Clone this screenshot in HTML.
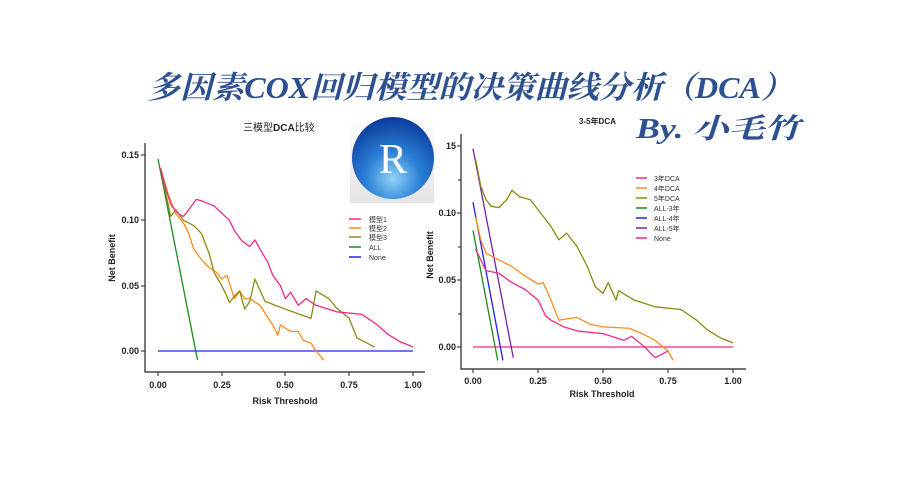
<!DOCTYPE html>
<html><head><meta charset="utf-8"><style>
body{margin:0;background:#fff;}
svg{display:block;font-family:"Liberation Sans","Noto Sans CJK SC",sans-serif;}
.l{fill:none;stroke-width:1.3;vector-effect:non-scaling-stroke;stroke-linejoin:round}
.t{font-size:9px;font-weight:bold;fill:#222}
.g{font-size:7px;fill:#333}
</style></head><body>
<svg width="918" height="494" viewBox="0 0 918 494">
<defs>
<radialGradient id="rb" cx="0.5" cy="0.75" r="0.75">
<stop offset="0" stop-color="#8fd3f7"/><stop offset="0.45" stop-color="#2a7fd6"/><stop offset="1" stop-color="#0b3a9c"/>
</radialGradient>
<linearGradient id="sh" x1="0" y1="0" x2="0" y2="1"><stop offset="0" stop-color="#fff"/><stop offset="1" stop-color="#e4e4e4"/></linearGradient>
</defs>
<text x="148" y="98" font-family="Liberation Serif,'Noto Serif CJK SC',serif" font-size="31" font-weight="bold" font-style="italic" fill="#2d5190" textLength="645" lengthAdjust="spacingAndGlyphs">多因素COX回归模型的决策曲线分析（DCA）</text>
<text x="636" y="138" font-family="Liberation Serif,'Noto Serif CJK SC',serif" font-size="28" font-weight="bold" font-style="italic" fill="#2d5190" textLength="164" lengthAdjust="spacingAndGlyphs">By. 小毛竹</text>
<text x="243" y="131" font-size="10" fill="#222">三模型<tspan font-weight="bold">DCA</tspan>比较</text>
<text x="579" y="124" font-size="8" font-weight="bold" fill="#222">3-5年DCA</text>

<!-- Left chart -->
<path d="M145 143V372H425" fill="none" stroke="#222" stroke-width="1.2"/>
<g stroke="#222" stroke-width="1">
<path d="M141 155h4M141 220h4M141 286h4M141 351h4"/>
<path d="M158 372v4M222 372v4M285 372v4M349 372v4M413 372v4"/>
</g>
<g class="t" text-anchor="end"><text x="139" y="158">0.15</text><text x="139" y="223">0.10</text><text x="139" y="289">0.05</text><text x="139" y="354">0.00</text></g>
<g class="t" text-anchor="middle"><text x="158" y="388">0.00</text><text x="222" y="388">0.25</text><text x="285" y="388">0.50</text><text x="349" y="388">0.75</text><text x="413" y="388">1.00</text></g>
<text x="285" y="404" class="t" font-size="10" text-anchor="middle">Risk Threshold</text>
<text transform="translate(115,258) rotate(-90)" class="t" text-anchor="middle">Net Benefit</text>
<g transform="translate(158,351) scale(255,-1306.7)">
<polyline class="l" stroke="#2020e8" points="0,0 1,0"/>
<polyline class="l" stroke="#1f8a1f" points="0,0.147 0.155,-0.007"/>
<polyline class="l" stroke="#ff8a1a" points="0.01,0.14 0.04,0.12 0.07,0.105 0.1,0.098 0.12,0.09 0.14,0.078 0.17,0.07 0.2,0.064 0.23,0.06 0.25,0.055 0.27,0.058 0.3,0.04 0.32,0.046 0.34,0.04 0.36,0.04 0.4,0.035 0.45,0.02 0.47,0.012 0.48,0.02 0.52,0.015 0.55,0.015 0.57,0.008 0.6,0.006 0.62,0 0.65,-0.007"/>
<polyline class="l" stroke="#8a8a10" points="0.01,0.14 0.04,0.112 0.05,0.103 0.07,0.108 0.1,0.1 0.14,0.096 0.17,0.09 0.2,0.075 0.22,0.06 0.25,0.05 0.27,0.042 0.28,0.037 0.3,0.042 0.32,0.046 0.34,0.032 0.36,0.038 0.38,0.055 0.42,0.038 0.5,0.032 0.6,0.025 0.62,0.046 0.67,0.04 0.7,0.033 0.75,0.025 0.78,0.01 0.85,0.003"/>
<polyline class="l" stroke="#f0288a" points="0.01,0.14 0.03,0.125 0.05,0.112 0.08,0.105 0.1,0.103 0.12,0.108 0.15,0.116 0.17,0.115 0.22,0.111 0.28,0.1 0.3,0.092 0.33,0.084 0.36,0.08 0.38,0.085 0.4,0.078 0.43,0.068 0.45,0.058 0.48,0.05 0.5,0.04 0.52,0.045 0.55,0.035 0.58,0.04 0.62,0.035 0.7,0.03 0.8,0.028 0.86,0.02 0.9,0.013 0.95,0.007 0.99,0.004 1,0.003"/>
</g>
<g stroke-width="1.5">
<path d="M349 219h12" stroke="#f0288a"/><path d="M349 228h12" stroke="#ff8a1a"/><path d="M349 237h12" stroke="#8a8a10"/><path d="M349 247h12" stroke="#1f8a1f"/><path d="M349 257h12" stroke="#2020e8"/>
</g>
<g class="g"><text x="369" y="222">模型1</text><text x="369" y="231">模型2</text><text x="369" y="240">模型3</text><text x="369" y="250">ALL</text><text x="369" y="260">None</text></g>

<!-- R logo -->
<rect x="350" y="115" width="84" height="88" fill="url(#sh)"/>
<circle cx="393" cy="158" r="41" fill="url(#rb)"/>
<text x="393" y="173" font-family="Liberation Serif,serif" font-size="42" fill="#fff" text-anchor="middle">R</text>

<!-- Right chart -->
<path d="M461 134V369H746" fill="none" stroke="#222" stroke-width="1.2"/>
<g stroke="#222" stroke-width="1">
<path d="M457 146h4M457 213h4M457 280h4M457 347h4M458 180h3M458 247h3M458 314h3"/>
<path d="M473 369v4M538 369v4M603 369v4M668 369v4M733 369v4"/>
</g>
<g class="t" text-anchor="end"><text x="456" y="149">15</text><text x="456" y="216">0.10</text><text x="456" y="283">0.05</text><text x="456" y="350">0.00</text></g>
<g class="t" text-anchor="middle"><text x="473" y="384">0.00</text><text x="538" y="384">0.25</text><text x="603" y="384">0.50</text><text x="668" y="384">0.75</text><text x="733" y="384">1.00</text></g>
<text x="602" y="397" class="t" text-anchor="middle">Risk Threshold</text>
<text transform="translate(433,255) rotate(-90)" class="t" text-anchor="middle">Net Benefit</text>
<g transform="translate(473,347) scale(260,-1340)">
<polyline class="l" stroke="#f0288a" points="0,0 1,0"/>
<polyline class="l" stroke="#1f8a1f" points="0,0.087 0.095,-0.01"/>
<polyline class="l" stroke="#2020e8" points="0,0.108 0.115,-0.01"/>
<polyline class="l" stroke="#7a1fa8" points="0,0.148 0.155,-0.008"/>
<polyline class="l" stroke="#8a8a10" points="0.01,0.14 0.03,0.12 0.05,0.11 0.07,0.105 0.1,0.104 0.13,0.11 0.15,0.117 0.18,0.112 0.22,0.11 0.26,0.1 0.3,0.09 0.33,0.08 0.36,0.085 0.4,0.075 0.44,0.06 0.47,0.045 0.5,0.04 0.52,0.048 0.55,0.035 0.56,0.042 0.62,0.035 0.7,0.03 0.8,0.028 0.86,0.02 0.9,0.013 0.95,0.007 1,0.003"/>
<polyline class="l" stroke="#ff8a1a" points="0.01,0.097 0.03,0.08 0.05,0.07 0.1,0.065 0.15,0.06 0.2,0.053 0.25,0.047 0.27,0.048 0.3,0.035 0.33,0.02 0.36,0.021 0.4,0.022 0.45,0.017 0.5,0.015 0.6,0.014 0.65,0.01 0.7,0.005 0.75,-0.003 0.77,-0.01"/>
<polyline class="l" stroke="#f0288a" points="0.01,0.073 0.03,0.065 0.05,0.057 0.1,0.055 0.15,0.048 0.2,0.043 0.25,0.035 0.28,0.023 0.3,0.02 0.35,0.015 0.4,0.012 0.5,0.01 0.58,0.005 0.61,0.008 0.66,0 0.7,-0.008 0.75,-0.003"/>
</g>
<g stroke-width="1.5">
<path d="M636 178h11" stroke="#f0288a"/><path d="M636 188h11" stroke="#ff8a1a"/><path d="M636 198h11" stroke="#8a8a10"/><path d="M636 208h11" stroke="#1f8a1f"/><path d="M636 218h11" stroke="#2020e8"/><path d="M636 228h11" stroke="#7a1fa8"/><path d="M636 238h11" stroke="#f0288a"/>
</g>
<g class="g"><text x="654" y="181">3年DCA</text><text x="654" y="191">4年DCA</text><text x="654" y="201">5年DCA</text><text x="654" y="211">ALL-3年</text><text x="654" y="221">ALL-4年</text><text x="654" y="231">ALL-5年</text><text x="654" y="241">None</text></g>
</svg>
</body></html>
